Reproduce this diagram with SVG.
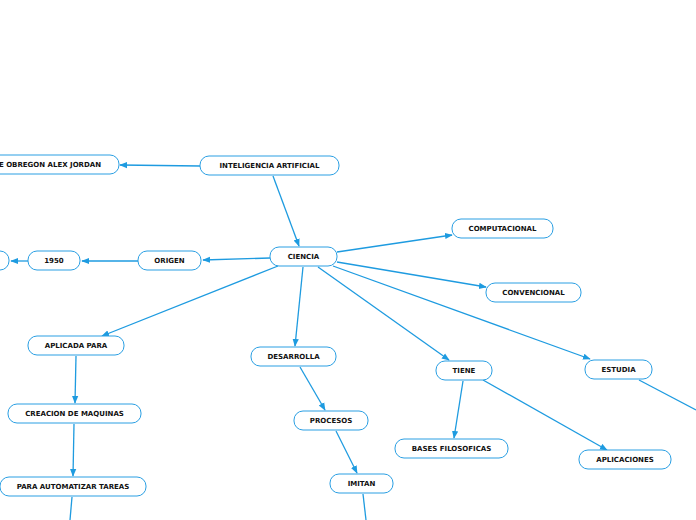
<svg xmlns="http://www.w3.org/2000/svg" width="696" height="520" viewBox="0 0 696 520">
<defs>
<marker id="a" viewBox="0 0 10 10" refX="9" refY="5" markerWidth="6" markerHeight="6" orient="auto"><path d="M0,1 L10,5 L0,9 z" fill="#1e9be0"/></marker>
<style>
.n rect{fill:#fff;stroke:#2a9fe3;stroke-width:1}
.n text{font-family:"DejaVu Sans",sans-serif;font-size:7px;font-weight:bold;fill:#111;text-anchor:middle;dominant-baseline:central}
#c line{stroke:#1e9be0;stroke-width:1.3}
#c line.m{marker-end:url(#a)}
</style>
</defs>
<rect width="696" height="520" fill="#fff"/>
<g id="c">
<line class="m" x1="200" y1="166" x2="120" y2="165"/>
<line class="m" x1="273" y1="176" x2="299" y2="246"/>
<line class="m" x1="270" y1="258" x2="203" y2="260"/>
<line class="m" x1="138" y1="261" x2="82" y2="261"/>
<line class="m" x1="28" y1="261" x2="11" y2="261"/>
<line class="m" x1="337" y1="252" x2="452" y2="235"/>
<line class="m" x1="337" y1="262" x2="486" y2="287"/>
<line class="m" x1="278" y1="266" x2="102" y2="336"/>
<line class="m" x1="303" y1="267" x2="295" y2="346"/>
<line class="m" x1="318" y1="267" x2="449" y2="360"/>
<line class="m" x1="333" y1="266" x2="590" y2="359"/>
<line class="m" x1="76" y1="356" x2="75" y2="403"/>
<line class="m" x1="300" y1="367" x2="325" y2="410"/>
<line class="m" x1="463" y1="381" x2="454" y2="438"/>
<line class="m" x1="483" y1="380" x2="607" y2="450"/>
<line class="m" x1="74" y1="424" x2="73" y2="476"/>
<line class="m" x1="336" y1="431" x2="357" y2="473"/>
<line x1="72" y1="497" x2="70" y2="520"/>
<line x1="363" y1="494" x2="366" y2="520"/>
<line x1="639" y1="380" x2="696" y2="410"/>
</g>
<g id="n1" class="n"><rect x="-10" y="155" width="129" height="19" rx="9"/><text x="50" y="164.5">E OBREGON ALEX JORDAN</text></g>
<g id="n2" class="n"><rect x="200" y="156" width="139" height="19" rx="9"/><text x="269.5" y="165.5">INTELIGENCIA ARTIFICIAL</text></g>
<g id="n3" class="n"><rect x="270" y="247" width="67" height="19" rx="9"/><text x="303.5" y="256.5">CIENCIA</text></g>
<g id="n4" class="n"><rect x="138" y="251" width="63" height="19" rx="9"/><text x="169.5" y="260.5">ORIGEN</text></g>
<g id="n5" class="n"><rect x="28" y="251" width="52" height="19" rx="9"/><text x="54" y="260.5">1950</text></g>
<g id="n6" class="n"><rect x="-20" y="251" width="29" height="19" rx="9"/></g>
<g id="n7" class="n"><rect x="452" y="219" width="101" height="19" rx="9"/><text x="502.5" y="228.5">COMPUTACIONAL</text></g>
<g id="n8" class="n"><rect x="486" y="283" width="95" height="19" rx="9"/><text x="533.5" y="292.5">CONVENCIONAL</text></g>
<g id="n9" class="n"><rect x="28" y="336" width="96" height="19" rx="9"/><text x="76" y="345.5">APLICADA PARA</text></g>
<g id="n10" class="n"><rect x="251" y="347" width="85" height="19" rx="9"/><text x="293.5" y="356.5">DESARROLLA</text></g>
<g id="n11" class="n"><rect x="436" y="361" width="56" height="19" rx="9"/><text x="464" y="370.5">TIENE</text></g>
<g id="n12" class="n"><rect x="585" y="360" width="67" height="19" rx="9"/><text x="618.5" y="369.5">ESTUDIA</text></g>
<g id="n13" class="n"><rect x="8" y="404" width="133" height="19" rx="9"/><text x="74.5" y="413.5">CREACION DE MAQUINAS</text></g>
<g id="n14" class="n"><rect x="294" y="411" width="74" height="19" rx="9"/><text x="331" y="420.5">PROCESOS</text></g>
<g id="n15" class="n"><rect x="395" y="439" width="113" height="19" rx="9"/><text x="451.5" y="448.5">BASES FILOSOFICAS</text></g>
<g id="n16" class="n"><rect x="579" y="450" width="92" height="19" rx="9"/><text x="625" y="459.5">APLICACIONES</text></g>
<g id="n17" class="n"><rect x="0" y="477" width="146" height="19" rx="9"/><text x="73" y="486.5">PARA AUTOMATIZAR TAREAS</text></g>
<g id="n18" class="n"><rect x="330" y="474" width="63" height="19" rx="9"/><text x="361.5" y="483.5">IMITAN</text></g>
</svg>
